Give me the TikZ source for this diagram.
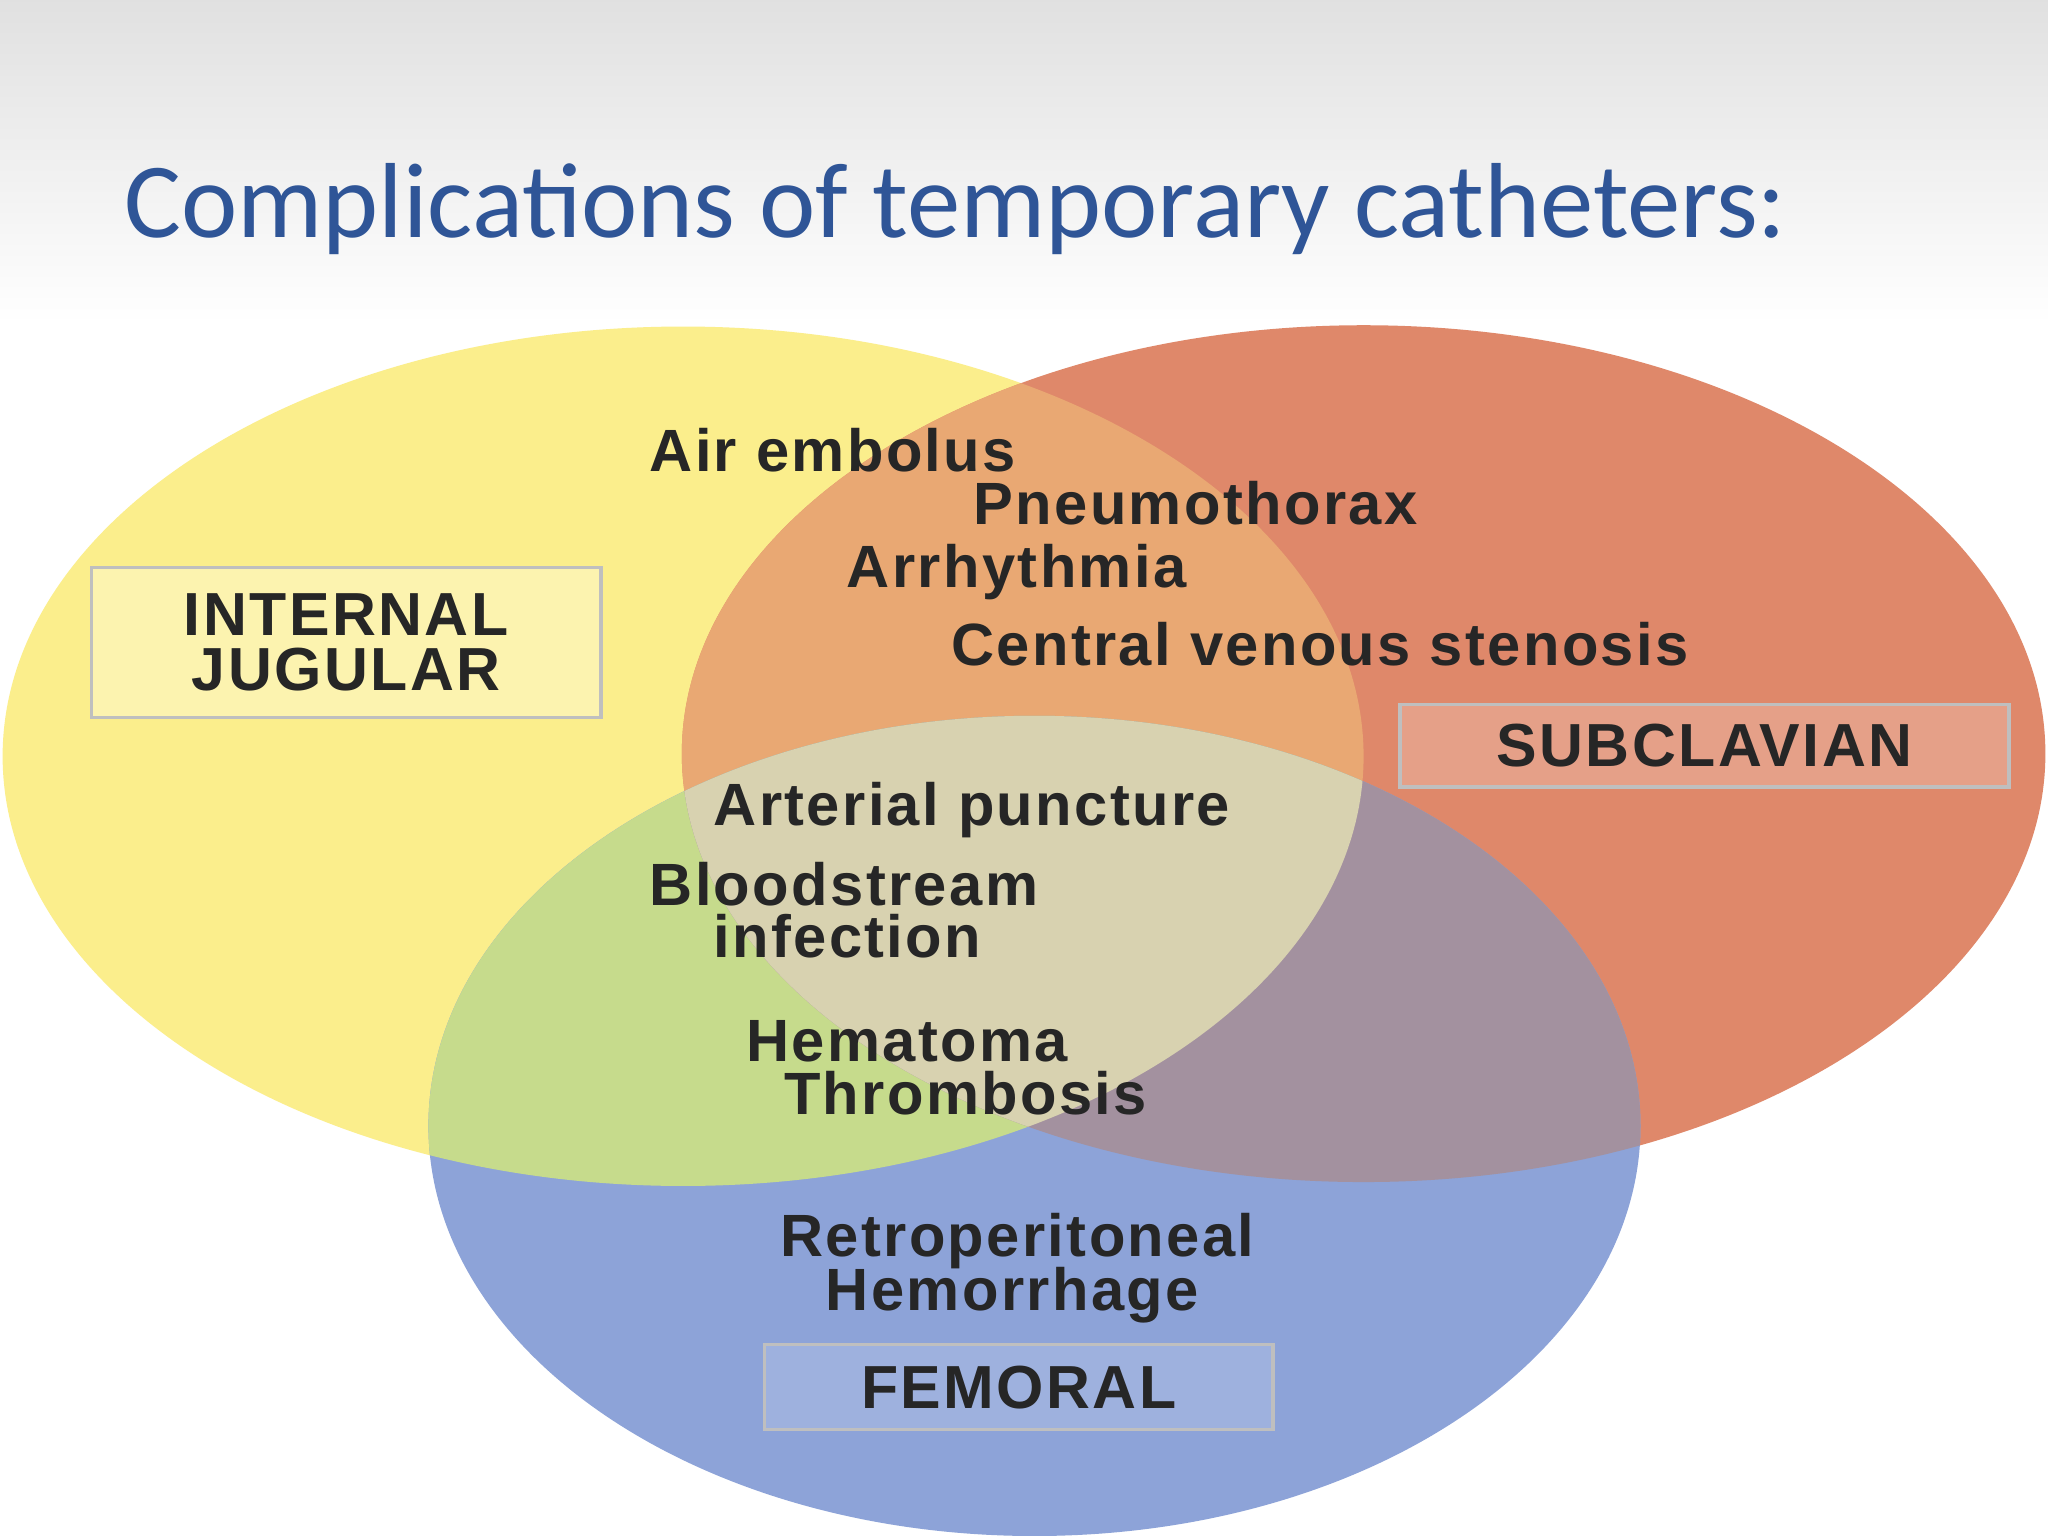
\documentclass[tikz,border=0pt]{standalone}
\usepackage{fontspec}
\setmainfont{Liberation Sans}[LetterSpace=4]
\newfontfamily\titlefont{Carlito}
\definecolor{yel}{HTML}{FBEE8C}
\definecolor{red}{HTML}{DF886A}
\definecolor{blu}{HTML}{8DA3D8}
\definecolor{yr}{HTML}{E9A873}
\definecolor{yb}{HTML}{C6DB8C}
\definecolor{rb}{HTML}{A3919F}
\definecolor{yrb}{HTML}{D8D2B0}
\definecolor{titleblue}{HTML}{2F5597}
\tikzset{
  lbl/.style={font=\bfseries\fontsize{26}{30}\selectfont, anchor=west, text=black!85, inner sep=0},
  boxlbl/.style={draw=black!25, line width=1.5pt, font=\bfseries\fontsize{26.5}{30}\selectfont, text=black!85, align=center, inner sep=0}
}
\begin{document}
\begin{tikzpicture}[x=0.02cm,y=-0.02cm]
\useasboundingbox (0,0) rectangle (1568,1176);
\shade[top color=black!12, bottom color=white] (0,0) rectangle (1568,248);
\fill[white] (0,248) rectangle (1568,1176);
\node[font=\titlefont\fontsize{46.5}{52}\selectfont, text=titleblue, anchor=west, inner sep=0] (title) at (95,160) {Complications of temporary catheters:};
\def\Y{(523,579) ellipse [x radius=521, y radius=329]}
\def\R{(1044,577) ellipse [x radius=522, y radius=328]}
\def\B{(792,862) ellipse [x radius=464, y radius=314]}
\fill[yel] \Y;
\fill[red] \R;
\fill[blu] \B;
\begin{scope}\clip \Y; \fill[yr] \R; \end{scope}
\begin{scope}\clip \Y; \fill[yb] \B; \end{scope}
\begin{scope}\clip \R; \fill[rb] \B; \end{scope}
\begin{scope}\clip \Y; \clip \R; \fill[yrb] \B; \end{scope}
\node[boxlbl, fill=yel!70!white, minimum width=390*0.02cm, minimum height=115*0.02cm] (ij) at (265,492) {INTERNAL\\[-6pt]JUGULAR};
\node[boxlbl, fill=red!80!white, minimum width=466*0.02cm, minimum height=63*0.02cm] (sc) at (1305,571) {SUBCLAVIAN};
\node[boxlbl, fill=blu!85!white, minimum width=389*0.02cm, minimum height=65*0.02cm] (fe) at (780,1062) {FEMORAL};
\node[lbl] (a1) at (497,345) {Air embolus};
\node[lbl] (a2) at (745,385) {Pneumothorax};
\node[lbl] (a3) at (648,438) {Arrhythmia};
\node[lbl] (a4) at (728,493) {Central venous stenosis};
\node[lbl] (a5) at (546,620) {Arterial puncture};
\node[lbl] (a6) at (497,677) {Bloodstream};
\node[lbl] (a7) at (546,717) {infection};
\node[lbl] (a8) at (571,797) {Hematoma};
\node[lbl] (a9) at (600,837) {Thrombosis};
\node[lbl] (a10) at (597,950) {Retroperitoneal};
\node[lbl] (a11) at (632,992) {Hemorrhage};
\end{tikzpicture}
\end{document}
